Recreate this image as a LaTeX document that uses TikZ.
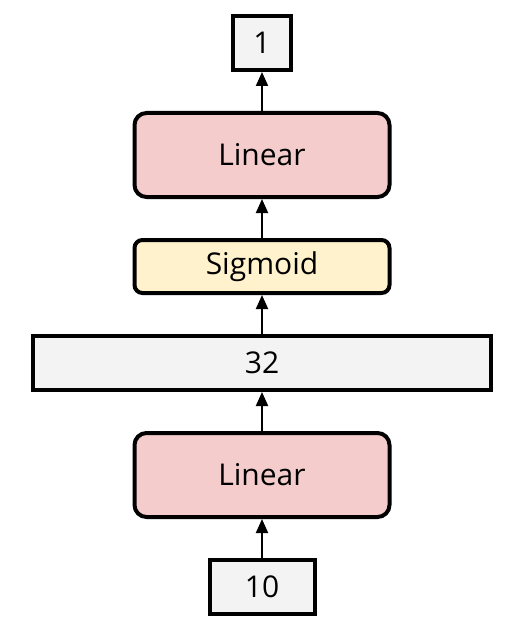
\documentclass[tikz,border=0pt]{standalone}
\usepackage{fontspec}
\setmainfont{Open Sans}
\usetikzlibrary{arrows.meta}
\definecolor{pinkfill}{HTML}{F4CCCC}
\definecolor{yellowfill}{HTML}{FFF2CC}
\definecolor{grayfill}{HTML}{F3F3F3}
\begin{document}
\begin{tikzpicture}[x=1pt,y=-1pt,
  base/.style={draw=black,line width=4pt,inner sep=0pt,font=\fontsize{30}{32}\selectfont,text=black},
  databox/.style={base,fill=grayfill},
  linbox/.style={base,fill=pinkfill,rounded corners=12pt,minimum width=255pt,minimum height=84pt},
  sigbox/.style={base,fill=yellowfill,rounded corners=8pt,minimum width=255pt,minimum height=53pt},
  flow/.style={line width=2pt,-{Triangle[length=14pt,width=12pt]}}]
\useasboundingbox (0,0) rectangle (504,623);
\node[databox,minimum width=58pt,minimum height=54pt] (out) at (262,43) {1};
\node[linbox] (lin2) at (262,155) {Linear};
\node[sigbox] (sig) at (262,266.5) {Sigmoid};
\node[databox,minimum width=458pt,minimum height=54pt] (hid) at (262,363) {32};
\node[linbox] (lin1) at (262,475) {Linear};
\node[databox,minimum width=105pt,minimum height=54pt] (in) at (262,587) {10};
\draw[flow] (in.north) -- (lin1.south);
\draw[flow] (lin1.north) -- (hid.south -| lin1.north);
\draw[flow] (hid.north -| sig.south) -- (sig.south);
\draw[flow] (sig.north) -- (lin2.south);
\draw[flow] (lin2.north) -- (out.south -| lin2.north);
\end{tikzpicture}
\end{document}
